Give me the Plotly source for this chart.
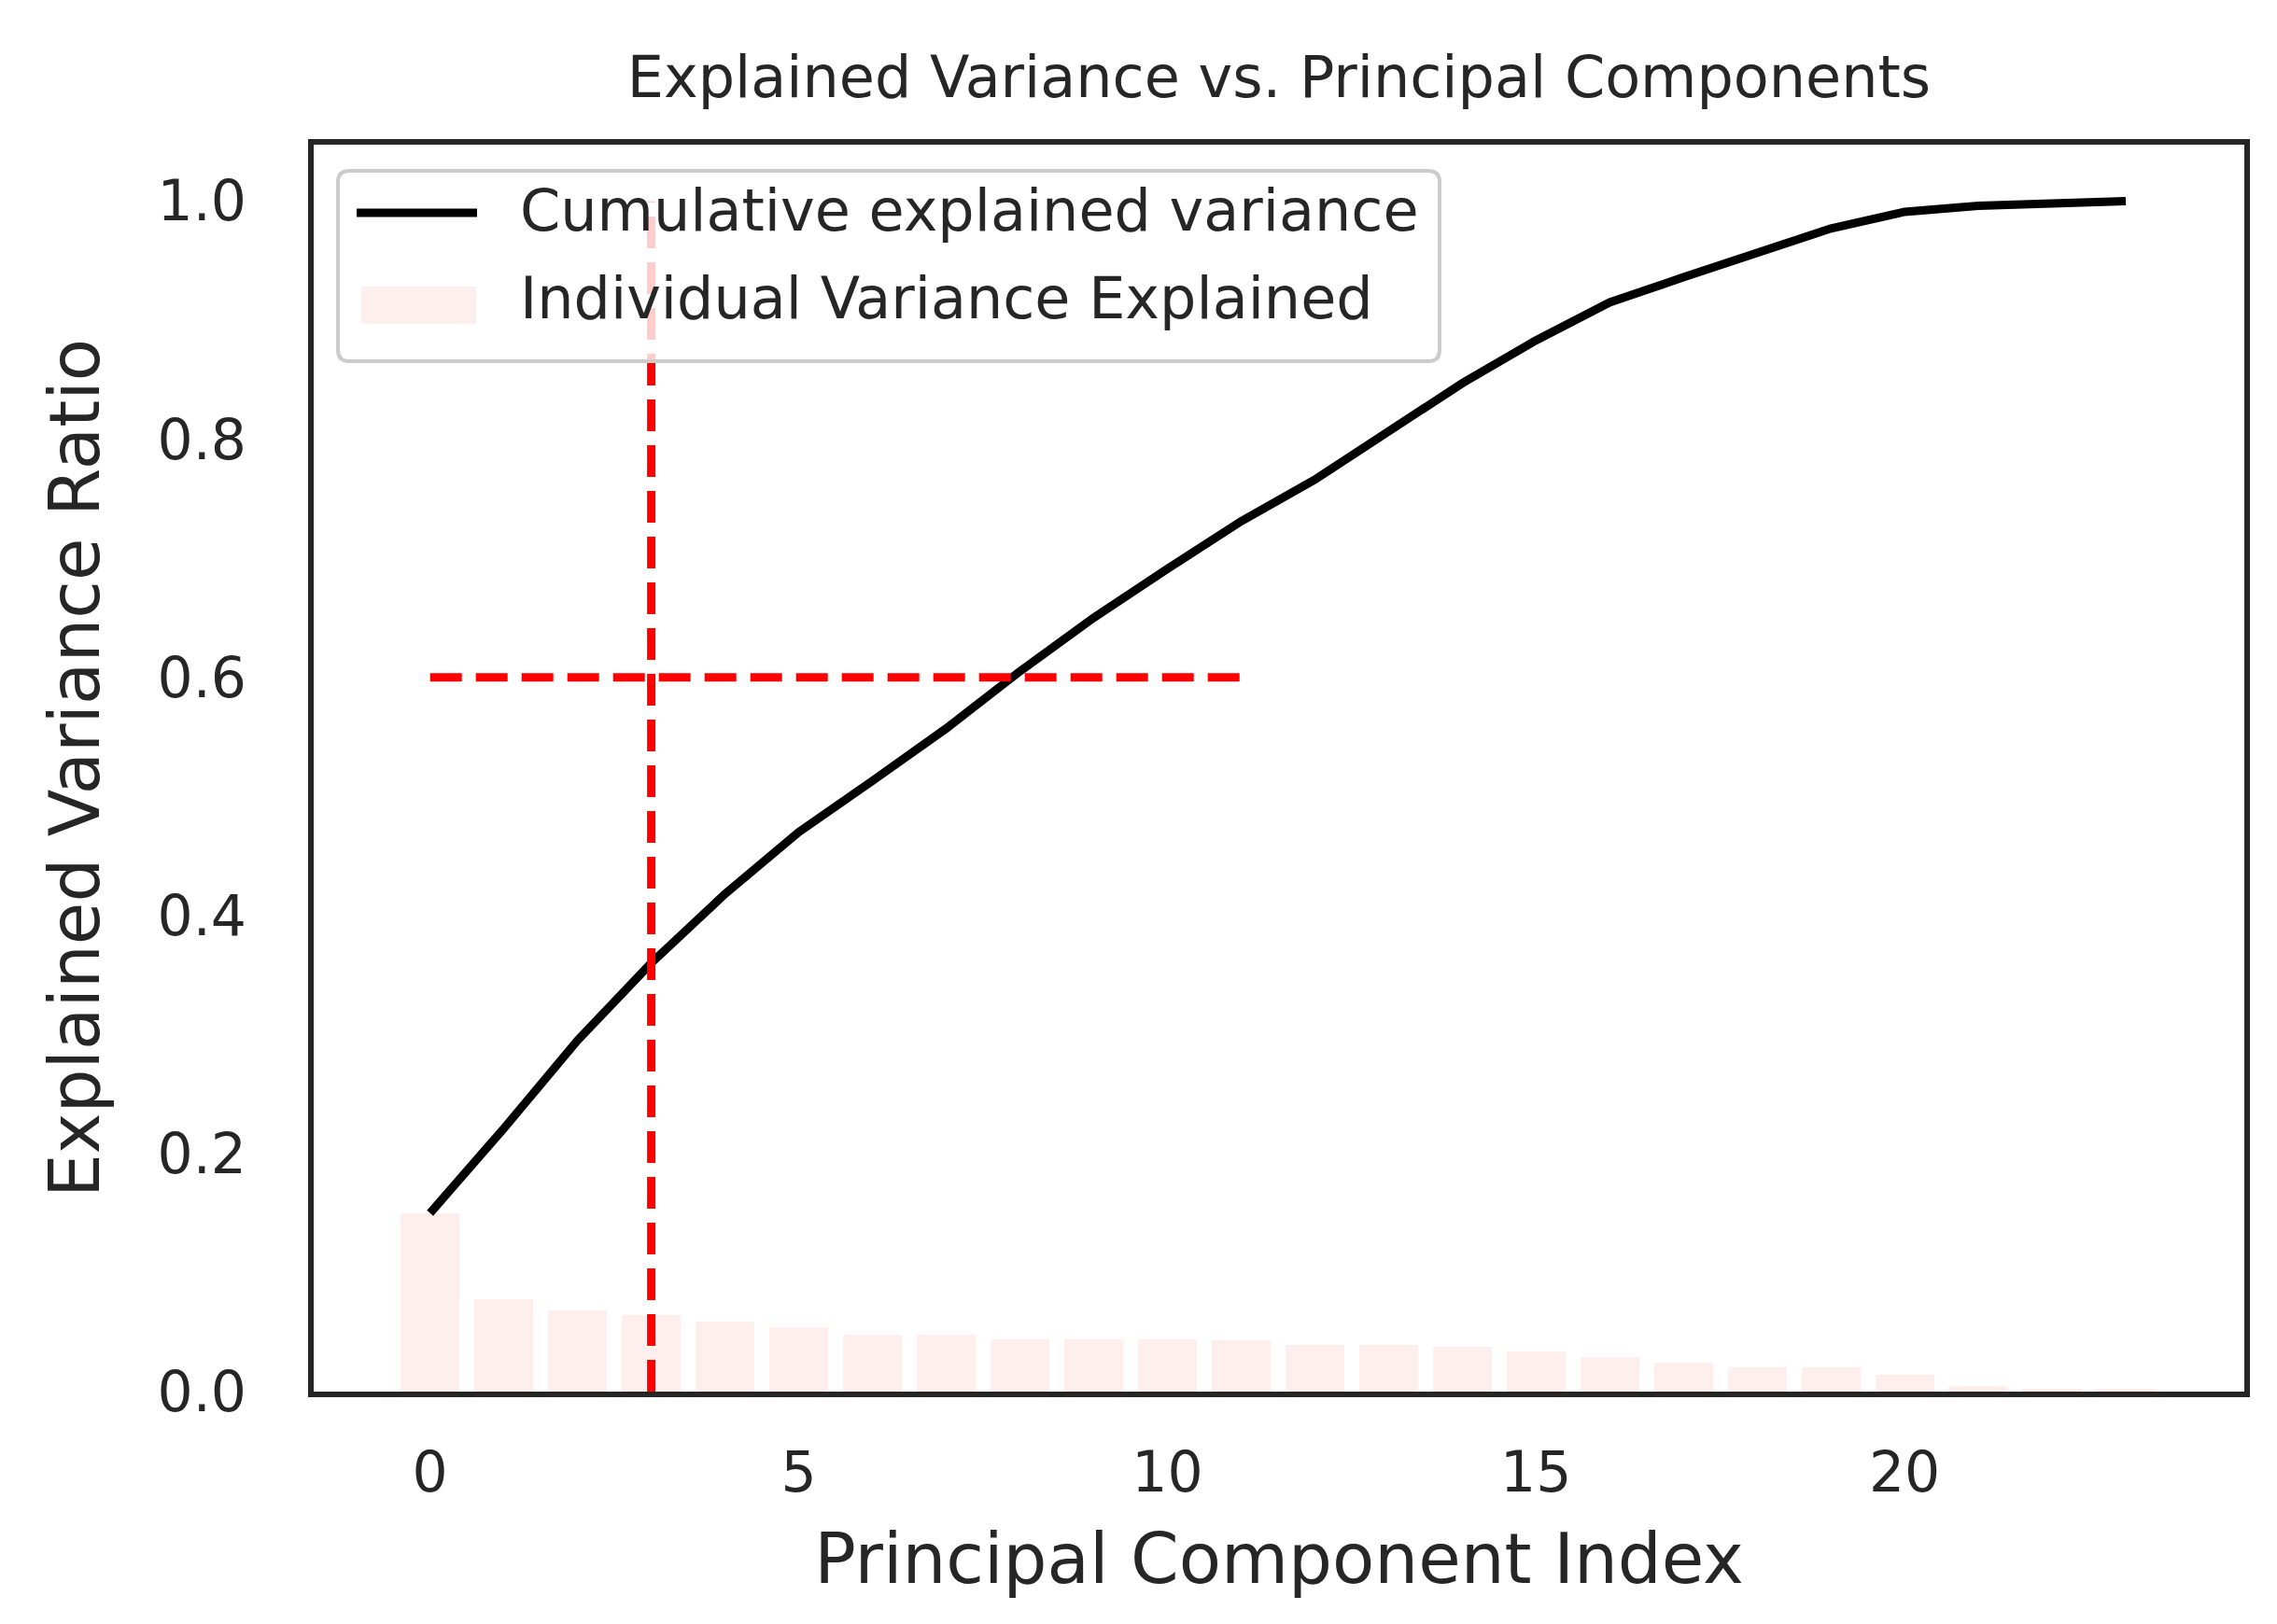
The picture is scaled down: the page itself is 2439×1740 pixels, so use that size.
import plotly.graph_objects as go

# ---- data ----
component_index = list(range(24))
individual_variance = [0.150, 0.078, 0.068, 0.064, 0.059, 0.054, 0.048, 0.048,
                       0.044, 0.044, 0.044, 0.043, 0.039, 0.039, 0.038, 0.034,
                       0.029, 0.024, 0.020, 0.020, 0.014, 0.005, 0.002, 0.002]
cumulative_variance = [0.150, 0.221, 0.295, 0.360, 0.418, 0.470, 0.513, 0.557,
                       0.605, 0.650, 0.691, 0.731, 0.766, 0.806, 0.847, 0.883,
                       0.915, 0.936, 0.957, 0.977, 0.991, 0.996, 0.998, 1.000]
chosen_component = 3
chosen_component_span = [0.0, 1.0]
variance_threshold = 0.6
threshold_span = [0, 11]
x_ticks = [0, 5, 10, 15, 20]
y_ticks = [0.0, 0.2, 0.4, 0.6, 0.8, 1.0]

# ---- figure geometry (px) ----
W, H = 2439, 1740
ML, MR, MT, MB = 328, 43, 147, 257
PW, PH = W - ML - MR, H - MT - MB

TXT = "#262626"
FONT = "DejaVu Sans"
BAR_COLOR = "rgba(255,0,0,0.065)"


def px(x):
    return (x - ML) / PW


def py(y):
    return (H - MB - y) / PH


fig = go.Figure()

fig.add_trace(go.Bar(
    x=component_index, y=individual_variance, width=0.8,
    marker=dict(color=BAR_COLOR, line=dict(width=0)),
    name="Individual Variance Explained", showlegend=False))

fig.add_trace(go.Scatter(
    x=component_index, y=cumulative_variance, mode="lines",
    line=dict(color="black", width=9),
    name="Cumulative explained variance", showlegend=False))

# threshold guides (red dashed)
fig.add_trace(go.Scatter(
    x=threshold_span, y=[variance_threshold] * 2, mode="lines",
    line=dict(color="red", width=9, dash="34px,15px"),
    showlegend=False, hoverinfo="skip"))
fig.add_trace(go.Scatter(
    x=[chosen_component] * 2, y=chosen_component_span, mode="lines",
    line=dict(color="red", width=9, dash="34px,15px"),
    showlegend=False, hoverinfo="skip"))

# ---- hand-drawn legend (matplotlib style) ----
bx0, bx1, by0, by1, r = 354, 1534, 175, 379, 12
rx, ry = r / PW, r / PH
x0, x1, y0, y1 = px(bx0), px(bx1), py(by0), py(by1)
path = (f"M{x0 + rx},{y0} L{x1 - rx},{y0} Q{x1},{y0} {x1},{y0 - ry} "
        f"L{x1},{y1 + ry} Q{x1},{y1} {x1 - rx},{y1} L{x0 + rx},{y1} "
        f"Q{x0},{y1} {x0},{y1 + ry} L{x0},{y0 - ry} Q{x0},{y0} {x0 + rx},{y0} Z")
fig.add_shape(type="path", path=path, xref="paper", yref="paper",
              fillcolor="rgba(255,255,255,0.8)",
              line=dict(color="#cccccc", width=4), layer="above")
fig.add_shape(type="line", xref="paper", yref="paper",
              x0=px(374), x1=px(503), y0=py(220), y1=py(220),
              line=dict(color="black", width=9), layer="above")
fig.add_shape(type="rect", xref="paper", yref="paper",
              x0=px(379), x1=px(502), y0=py(299), y1=py(339),
              fillcolor=BAR_COLOR, line=dict(width=0), layer="above")
for label, yc in [("Cumulative explained variance", 217),
                  ("Individual Variance Explained", 311)]:
    fig.add_annotation(text=label, xref="paper", yref="paper",
                       x=px(547), y=py(yc), xanchor="left", yanchor="middle",
                       showarrow=False, font=dict(family=FONT, size=62, color=TXT))

axis_common = dict(showgrid=False, zeroline=False, showline=True, mirror=True,
                   linecolor=TXT, linewidth=6, ticks="", automargin=False,
                   tickfont=dict(family=FONT, size=60, color=TXT))

fig.update_xaxes(range=[-1.579, 24.608], tickvals=x_ticks,
                 ticklabelstandoff=29,
                 title=dict(text="Principal Component Index", standoff=35,
                            font=dict(family=FONT, size=74, color=TXT)),
                 **axis_common)
fig.update_yaxes(range=[0, 1.0474], tickvals=y_ticks, tickformat=".1f",
                 ticklabelstandoff=54,
                 title=dict(text="Explained Variance Ratio", standoff=40,
                            font=dict(family=FONT, size=74, color=TXT)),
                 **axis_common)

fig.update_layout(
    width=W, height=H,
    margin=dict(l=ML, r=MR, t=MT, b=MB),
    paper_bgcolor="white", plot_bgcolor="white",
    template="none",
    bargap=0,
    title=dict(text="Explained Variance vs. Principal Components",
               x=0.5, xref="paper", xanchor="center",
               y=1 - 74 / H, yref="container", yanchor="middle",
               font=dict(family=FONT, size=62, color=TXT)),
    showlegend=False,
)

fig.write_html("out.html")
